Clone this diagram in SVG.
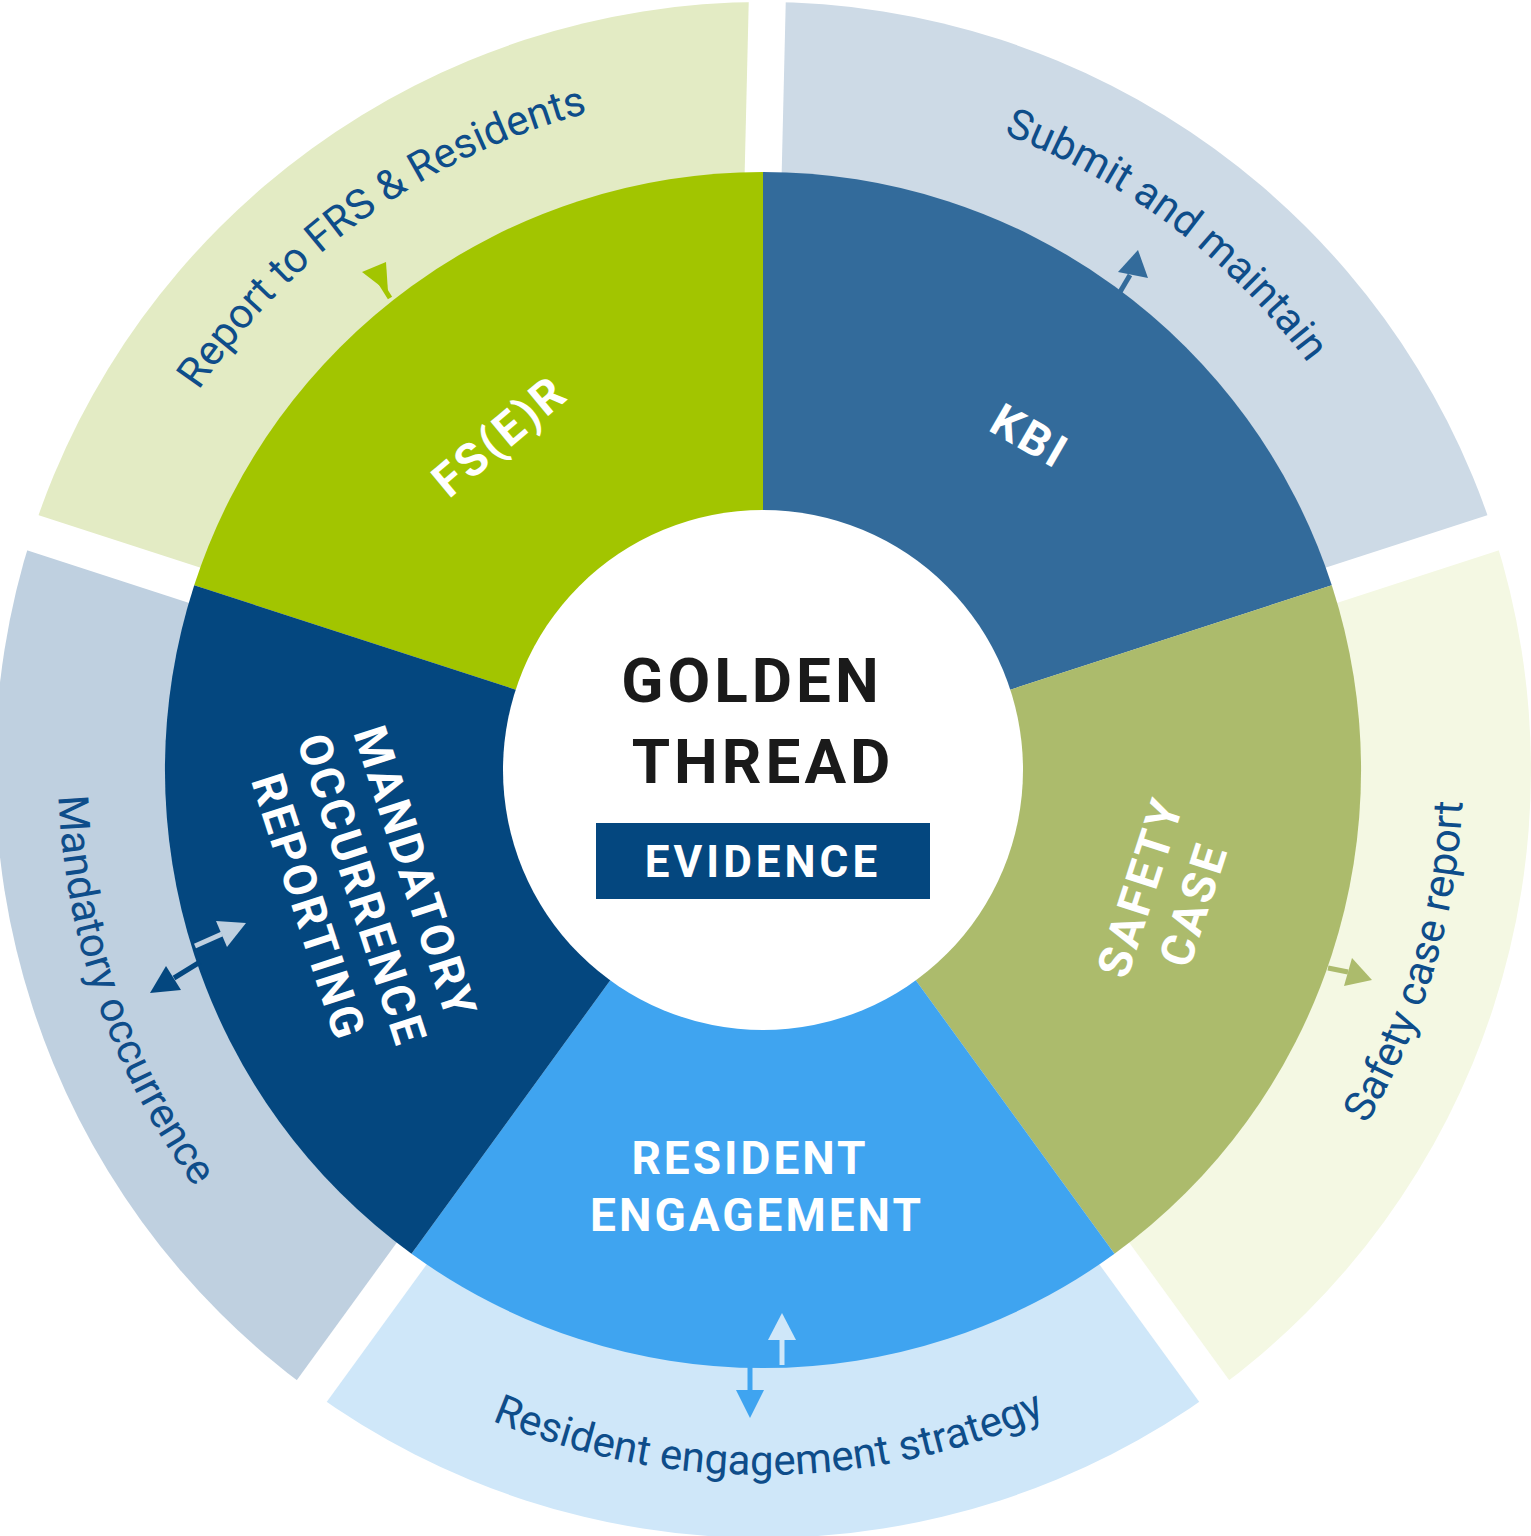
<svg xmlns="http://www.w3.org/2000/svg" width="1531" height="1536" viewBox="0 0 1531 1536">
<style>
.lbl{font-family:Roboto,"Liberation Sans",sans-serif;font-size:42px;fill:#0e4d8a}
.in{font-family:Roboto,"Liberation Sans",sans-serif;font-weight:bold;font-size:46px;fill:#fff;letter-spacing:3px;text-anchor:middle}
.ctr{font-family:Roboto,"Liberation Sans",sans-serif;font-weight:bold;font-size:62px;fill:#1a1a1a;letter-spacing:4px;text-anchor:middle}
.gap{stroke:#fff;stroke-width:37}
</style>
<defs>
<path id="pReport" d="M86.1,835.2 A680,680 0 0 1 1045,151.2"/>
<path id="pSubmit" d="M497.3,144.1 A680,680 0 0 1 1437.9,852.9"/>
<path id="pSafety" d="M926.4,1450.7 A700,700 0 0 0 1270.8,288.1"/>
<path id="pResident" d="M155.6,1127.8 A705,705 0 0 0 1376.6,1117.1"/>
<path id="pMand" d="M229.3,309.4 A705,705 0 0 0 630.9,1462.5"/>
</defs>
<g id="outer">
<path d="M763,770 L32.6,532.7 A768,768 0 0 1 763,2 Z" fill="#e3ebc4"/>
<path d="M763,770 L763,2 A768,768 0 0 1 1493.4,532.7 Z" fill="#cddae6"/>
<path d="M763,770 L1493.4,532.7 A768,768 0 0 1 1214.4,1391.3 Z" fill="#f4f8e3"/>
<path d="M763,770 L1214.4,1391.3 A768,768 0 0 1 311.6,1391.3 Z" fill="#cfe7f9"/>
<path d="M763,770 L311.6,1391.3 A768,768 0 0 1 32.6,532.7 Z" fill="#bfd0e0"/>
<line class="gap" x1="763" y1="180" x2="768" y2="-30"/>
<line class="gap" x1="1324.1" y1="587.7" x2="1523.9" y2="522.8"/>
<line class="gap" x1="1109.8" y1="1247.3" x2="1233.2" y2="1417.2"/>
<line class="gap" x1="416.2" y1="1247.3" x2="292.8" y2="1417.2"/>
<line class="gap" x1="201.9" y1="587.7" x2="2.1" y2="522.8"/>
</g>
<g id="fser"><path d="M763,770 L194.2,585.2 A598,598 0 0 1 763,172 Z" fill="#a2c500"/>
<text class="in" transform="translate(510,448) rotate(-40)">FS(E)R</text></g>
<g id="kbi"><path d="M763,770 L763,172 A598,598 0 0 1 1331.8,585.2 Z" fill="#336b9b"/>
<text class="in" transform="translate(1022,450) rotate(30)">KBI</text></g>
<g id="safety"><path d="M763,770 L1331.8,585.2 A598,598 0 0 1 1114.5,1253.8 Z" fill="#acbb6c"/>
<g transform="translate(1165,895) rotate(-72)"><text class="in" y="-10">SAFETY</text><text class="in" y="46">CASE</text></g></g>
<g id="resident"><path d="M763,770 L1114.5,1253.8 A598,598 0 0 1 411.5,1253.8 Z" fill="#3fa4f0"/>
<text class="in" x="750" y="1174">RESIDENT</text><text class="in" x="757" y="1231">ENGAGEMENT</text></g>
<g id="mor"><path d="M763,770 L411.5,1253.8 A598,598 0 0 1 194.2,585.2 Z" fill="#04477f"/>
<g transform="translate(362,890) rotate(72)"><text class="in" y="-40">MANDATORY</text><text class="in" y="16">OCCURRENCE</text><text class="in" y="72">REPORTING</text></g></g>
<g id="center"><circle cx="763" cy="770" r="260" fill="#fff"/>
<text class="ctr" x="752" y="702">GOLDEN</text><text class="ctr" x="763" y="783">THREAD</text>
<rect x="596" y="823" width="334" height="76" fill="#04477f"/>
<text class="in" x="763" y="877" style="font-size:44px;letter-spacing:4px">EVIDENCE</text></g>
<g id="labels">
<text class="lbl"><textPath href="#pReport" startOffset="50%" text-anchor="middle">Report to FRS &amp; Residents</textPath></text>
<text class="lbl"><textPath href="#pSubmit" startOffset="50%" text-anchor="middle">Submit and maintain</textPath></text>
<text class="lbl"><textPath href="#pSafety" startOffset="50%" text-anchor="middle">Safety case report</textPath></text>
<text class="lbl"><textPath href="#pResident" startOffset="50%" text-anchor="middle">Resident engagement strategy</textPath></text>
<text class="lbl"><textPath href="#pMand" startOffset="50%" text-anchor="middle">Mandatory occurrence</textPath></text>
</g>
<g id="connectors" stroke-width="5">
<line x1="390" y1="298" x2="380" y2="282" stroke="#a2c500"/><polygon points="362,272 386,262 388,292" fill="#a2c500" transform="rotate(0)"/>
<line x1="1120" y1="292" x2="1130" y2="275" stroke="#336b9b"/><polygon points="1138,250 1148,278 1118,272" fill="#336b9b"/>
<line x1="1328" y1="968" x2="1348" y2="972" stroke="#acbb6c"/><polygon points="1372,980 1344,986 1352,958" fill="#acbb6c"/>
<line x1="782" y1="1365" x2="782" y2="1338" stroke="#cfe7f9"/><polygon points="782,1313 796,1340 768,1340" fill="#cfe7f9"/>
<line x1="750" y1="1365" x2="750" y2="1392" stroke="#3fa4f0"/><polygon points="750,1418 736,1390 764,1390" fill="#3fa4f0"/>
<line x1="195" y1="946" x2="222" y2="934" stroke="#bfd0e0"/><polygon points="246,923 227,947 216,921" fill="#bfd0e0"/>
<line x1="200" y1="962" x2="174" y2="978" stroke="#04477f"/><polygon points="150,993 166,966 181,990" fill="#04477f"/>
</g>
</svg>
